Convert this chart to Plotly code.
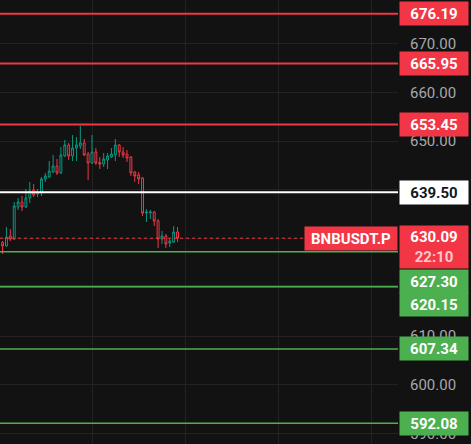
import plotly.graph_objects as go

# ---- data ----
bar_index = list(range(46))
opens  = [629.21, 628.49, 630.54, 629.92, 636.49, 637.52, 636.49, 638.34, 639.99, 639.16,
          639.37, 642.24, 642.65, 643.68, 644.91, 643.48, 646.97, 649.23, 646.97, 648.61,
          649.02, 649.64, 647.38, 645.53, 647.79, 645.63, 645.32, 646.15, 646.76, 647.17,
          649.23, 647.79, 647.38, 646.76, 643.68, 643.07, 642.45, 635.26, 635.26, 635.47,
          633.62, 629.92, 630.54, 629.10, 629.31, 631.36]
highs  = [629.51, 632.39, 631.98, 637.52, 638.34, 638.75, 640.19, 641.63, 641.22, 640.19,
          642.65, 643.48, 645.94, 647.17, 646.35, 648.82, 650.25, 649.64, 651.28, 650.87,
          653.13, 650.46, 647.79, 651.28, 648.61, 646.76, 647.58, 647.58, 648.61, 650.46,
          649.43, 648.82, 648.20, 646.97, 643.89, 643.68, 642.65, 636.08, 635.88, 635.67,
          634.03, 631.57, 630.95, 629.92, 632.59, 632.39]
lows   = [626.84, 628.38, 629.51, 629.72, 635.88, 635.67, 636.29, 637.32, 638.55, 638.55,
          638.75, 641.63, 642.45, 643.48, 643.07, 643.27, 646.76, 646.15, 645.94, 645.94,
          648.40, 646.97, 642.04, 645.32, 645.12, 644.30, 644.71, 644.30, 646.56, 645.94,
          646.76, 646.56, 645.73, 642.86, 641.63, 641.22, 634.65, 633.41, 634.03, 632.59,
          628.07, 628.90, 628.07, 628.28, 629.10, 629.31]
closes = [628.49, 630.33, 629.92, 636.70, 637.52, 636.49, 638.34, 639.78, 638.96, 639.58,
          642.24, 642.86, 643.89, 644.91, 643.48, 647.17, 649.23, 646.97, 648.61, 649.23,
          649.64, 647.17, 645.53, 647.79, 645.53, 645.32, 646.35, 646.97, 647.38, 649.23,
          647.79, 647.17, 646.56, 643.48, 642.86, 642.24, 635.26, 635.47, 635.47, 633.62,
          629.92, 630.54, 628.90, 629.51, 631.36, 630.09]

resistance_levels = [676.19, 665.95, 653.45]
pivot_level = 639.50
support_levels = [627.30, 620.15, 607.34, 592.08]
last_price = 630.09
symbol = "BNBUSDT.P"
countdown = "22:10"
grid_bars = [23, 47, 71, 95]

# ---- styling ----
BG = "#121212"
GRID = "#222222"
RED = "#f23645"
GREEN = "#4caf50"
UP = "#089981"
FONT = "Roboto"

fig = go.Figure()
fig.add_trace(go.Candlestick(
    x=bar_index, open=opens, high=highs, low=lows, close=closes,
    increasing=dict(line=dict(color=UP, width=1), fillcolor=BG),
    decreasing=dict(line=dict(color=RED, width=1), fillcolor=BG),
    whiskerwidth=0, showlegend=False, hoverinfo="skip",
))

shapes = []
annotations = []

def level_line(v, color, width=2):
    shapes.append(dict(type="line", xref="paper", x0=0, x1=1, yref="y", y0=v, y1=v,
                       line=dict(color=color, width=width), layer="above"))

def level_label(text, v, bg, fg="#ffffff", yshift=0, height=17):
    annotations.append(dict(
        xref="paper", x=1, xanchor="left", xshift=1,
        yref="y", y=v, yanchor="middle", yshift=yshift,
        text=text, showarrow=False, bgcolor=bg, width=62, height=height,
        borderpad=3, align="center", valign="middle",
        font=dict(family=FONT, size=15, color=fg, weight="bold"),
    ))

for v in resistance_levels:
    level_line(v, RED)
    level_label(f"{v:.2f}", v, RED)

level_line(pivot_level, "#ffffff")
level_label(f"{pivot_level:.2f}", pivot_level, "#ffffff", fg="#131722")

for v in support_levels:
    level_line(v, GREEN, 1.6)

# stacked support labels (pushed below the last price label)
level_label(f"{support_levels[0]:.2f}", support_levels[0], GREEN, yshift=-29.5)
level_label(f"{support_levels[1]:.2f}", support_levels[1], GREEN, yshift=-18)
level_label(f"{support_levels[2]:.2f}", support_levels[2], GREEN)
level_label(f"{support_levels[3]:.2f}", support_levels[3], GREEN)

# last price dotted line + labels
shapes.append(dict(type="line", xref="paper", x0=0, x1=0.769, yref="y",
                   y0=last_price, y1=last_price,
                   line=dict(color=RED, width=1, dash="dot"), layer="above"))
level_label(f"{last_price:.2f}<br><span style='color:#fbc7cc'>{countdown}</span>",
            last_price, RED, yshift=-9, height=36)
annotations.append(dict(
    xref="paper", x=1, xanchor="right", xshift=0,
    yref="y", y=last_price, yanchor="middle",
    text=symbol, showarrow=False, bgcolor=RED, width=86, height=17,
    borderpad=3, align="center", valign="middle",
    font=dict(family=FONT, size=15, color="#ffffff", weight="bold"),
))

fig.update_layout(
    width=471, height=444,
    margin=dict(l=0, r=73, t=0, b=0),
    paper_bgcolor=BG, plot_bgcolor=BG,
    shapes=shapes, annotations=annotations,
    showlegend=False,
    xaxis=dict(range=[-0.66, 101.7], rangeslider=dict(visible=False),
               tickmode="array", tickvals=grid_bars, showticklabels=False,
               showgrid=True, gridcolor=GRID, gridwidth=1, zeroline=False,
               showline=False, fixedrange=True),
    yaxis=dict(side="right", range=[587.83, 679.0], dtick=10, tick0=0,
               tickformat=".2f", showgrid=True, gridcolor=GRID, gridwidth=1,
               zeroline=False, showline=False, ticks="", ticklabelstandoff=11,
               tickfont=dict(family=FONT, size=15, color="#a6a8ad"),
               fixedrange=True),
)

fig.write_html(
    "out.html",
    config={"displayModeBar": False},
    post_script="document.body.style.margin='0';document.body.style.overflow='hidden';"
                "document.body.style.background='#121212';",
)
